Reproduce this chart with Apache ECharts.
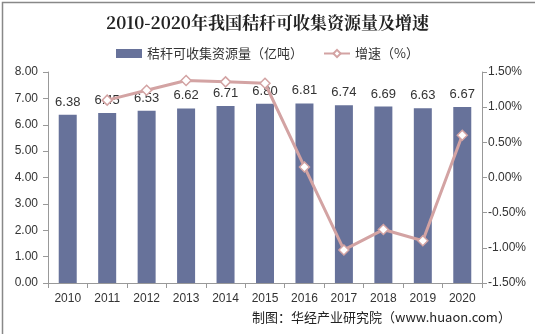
<!DOCTYPE html>
<html><head><meta charset="utf-8">
<script src="https://cdn.jsdelivr.net/npm/echarts@6/dist/echarts.min.js"></script>
<style>html,body{margin:0;padding:0;background:#fff}#c{width:535px;height:334px}</style>
</head><body><div id="c"></div>
<script>
const categories = ['2010','2011','2012','2013','2014','2015','2016','2017','2018','2019','2020'];
const volume = [6.38,6.45,6.53,6.62,6.71,6.80,6.81,6.74,6.69,6.63,6.67];
const growth = [null,1.10,1.24,1.38,1.36,1.34,0.15,-1.03,-0.74,-0.90,0.60];
const leftTicks = [0,1,2,3,4,5,6,7,8];
const rightTicks = [-1.5,-1,-0.5,0,0.5,1,1.5];

const chart = echarts.init(document.getElementById('c'));
const txt = '#333';
chart.setOption({
  animation:false,
  title:{text:'2010-2020年我国秸秆可收集资源量及增速',left:'center',top:9,
    textStyle:{fontFamily:'"Noto Serif CJK SC","Noto Sans CJK SC",serif',fontWeight:'bold',fontSize:17,color:'#222'}},
  legend:{top:42,left:'center',itemGap:20,itemWidth:26,itemHeight:9,
    textStyle:{fontFamily:'"Noto Sans CJK SC",sans-serif',fontSize:13,color:txt},
    data:[{name:'秸秆可收集资源量（亿吨）',icon:'rect'},{name:'增速（%）'}]},
  grid:{left:48,right:53,top:72,bottom:51},
  xAxis:{type:'category',data:categories,
    axisLine:{lineStyle:{color:'#999'}},axisTick:{show:true,lineStyle:{color:'#999'}},
    axisLabel:{color:txt,fontSize:12,fontFamily:'Arial, Liberation Sans',margin:10}},
  yAxis:[
    {type:'value',min:leftTicks[0],max:leftTicks[leftTicks.length-1],interval:1,
     axisLine:{show:true,lineStyle:{color:'#999'}},axisTick:{show:true,inside:false,lineStyle:{color:'#999'}},
     splitLine:{show:false},
     axisLabel:{color:txt,fontSize:12,fontFamily:'Arial, Liberation Sans',margin:10,formatter:v=>v.toFixed(2)}},
    {type:'value',min:rightTicks[0],max:rightTicks[rightTicks.length-1],interval:0.5,
     axisLine:{show:true,lineStyle:{color:'#999'}},axisTick:{show:true,lineStyle:{color:'#999'}},
     splitLine:{show:false},
     axisLabel:{color:txt,fontSize:12,fontFamily:'Arial, Liberation Sans',margin:6,formatter:v=>v.toFixed(2)+'%'}}
  ],
  series:[
    {name:'秸秆可收集资源量（亿吨）',type:'bar',data:volume,barWidth:18,
     itemStyle:{color:'#67729a'},
     label:{show:true,position:'top',distance:6,color:txt,fontSize:13,fontFamily:'Arial, Liberation Sans',formatter:p=>p.value.toFixed(2)}},
    {name:'增速（%）',type:'line',yAxisIndex:1,data:growth,
     symbol:'diamond',symbolSize:10,
     lineStyle:{color:'#d3a3a3',width:3},
     itemStyle:{color:'#fff',borderColor:'#d3a3a3',borderWidth:1.5}}
  ],
  graphic:[
    {type:'rect',left:0,top:0,shape:{width:534,height:333},style:{fill:'none',stroke:'#888',lineWidth:1.5},silent:true},
    {type:'text',left:252,top:311,style:{text:'制图：华经产业研究院（www.huaon.com）',fill:'#222',font:'13px "Noto Sans CJK SC", sans-serif'}}
  ]
});
</script></body></html>
